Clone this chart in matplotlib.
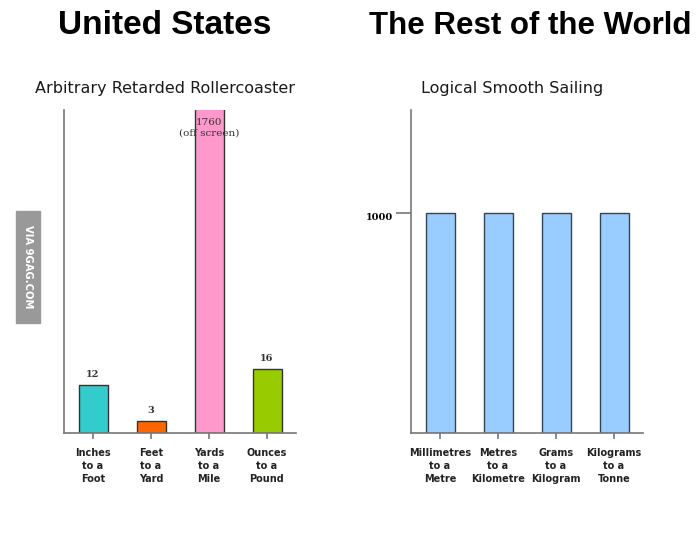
import matplotlib
matplotlib.use("Agg")
import matplotlib.pyplot as plt
from matplotlib.patches import Rectangle

# left panel: US conversion factors
us_labels = ["Inches\nto a\nFoot", "Feet\nto a\nYard", "Yards\nto a\nMile", "Ounces\nto a\nPound"]
us_values = [12, 3, 1760, 16]
us_colors = ["#33CCCC", "#FF6600", "#FF99CC", "#99CC00"]

# right panel: metric conversion factors
world_labels = ["Millimetres\nto a\nMetre", "Metres\nto a\nKilometre", "Grams\nto a\nKilogram", "Kilograms\nto a\nTonne"]
world_values = [1000, 1000, 1000, 1000]
world_color = "#99CCFF"

AXIS_GREY = "#777777"


def style_axes(ax):
    for side in ("top", "right"):
        ax.spines[side].set_visible(False)
    for side in ("left", "bottom"):
        ax.spines[side].set_color(AXIS_GREY)
        ax.spines[side].set_linewidth(1.2)
    ax.tick_params(axis="x", length=4, width=1.2, color=AXIS_GREY, pad=7,
                   labelsize=7, labelcolor="#222222")
    ax.set_xlim(-0.5, 3.5)
    for lab in ax.get_xticklabels():
        lab.set_fontweight("bold")
        lab.set_linespacing(1.35)


fig = plt.figure(figsize=(7, 5.33), dpi=100)

# --- United States ---
ax1 = fig.add_axes([64 / 700, 100 / 533, 232 / 700, 323 / 533])
x = range(len(us_values))
ax1.bar(x, us_values, width=0.5, color=us_colors, edgecolor="#333333", linewidth=1)
ax1.set_ylim(0, 80.75)
ax1.set_yticks([])
ax1.set_xticks(list(x))
ax1.set_xticklabels(us_labels, multialignment="center")
style_axes(ax1)
for xi, v in zip(x, us_values):
    if v > 80:
        # bar runs off the top of the chart
        ax1.annotate(f"{v}\n(off screen)", (xi, 1.0), xycoords=ax1.get_xaxis_transform(),
                     xytext=(0, -6), textcoords="offset points",
                     ha="center", va="top", fontsize=7.5, family="DejaVu Serif",
                     color="#333333", linespacing=1.15)
    else:
        ax1.annotate(str(v), (xi, v), xytext=(0, 4), textcoords="offset points",
                     ha="center", va="bottom", fontsize=7, family="DejaVu Serif",
                     fontweight="bold", color="#333333")

# --- Rest of the World ---
ax2 = fig.add_axes([411 / 700, 100 / 533, 232 / 700, 323 / 533])
x2 = range(len(world_values))
ax2.bar(x2, world_values, width=0.5, color=world_color, edgecolor="#334455", linewidth=1)
ax2.set_ylim(0, 1468)
ax2.set_yticks([1000])
ax2.set_yticklabels(["1000"])
ax2.tick_params(axis="y", length=11, width=1.2, color=AXIS_GREY, pad=2, labelsize=7)
for lab in ax2.get_yticklabels():
    lab.set_family("DejaVu Serif")
    lab.set_fontweight("bold")
    lab.set_va("top")
ax2.set_xticks(list(x2))
ax2.set_xticklabels(world_labels, multialignment="center")
style_axes(ax2)

# titles
fig.text(165 / 700, 1 - 26 / 533, "United States", ha="center", va="center",
         fontsize=24, fontweight="bold", family="Liberation Sans")
fig.text(530 / 700, 1 - 26 / 533, "The Rest of the World", ha="center", va="center",
         fontsize=22.5, fontweight="bold", family="Liberation Sans")
fig.text(165 / 700, 1 - 88 / 533, "Arbitrary Retarded Rollercoaster", ha="center",
         va="center", fontsize=11.5, color="#1a1a1a")
fig.text(512 / 700, 1 - 88 / 533, "Logical Smooth Sailing", ha="center",
         va="center", fontsize=11.5, color="#1a1a1a")

# watermark
fig.patches.append(Rectangle((16 / 700, 1 - 323 / 533), 24 / 700, 112 / 533,
                             transform=fig.transFigure, color="#999999", zorder=0))
fig.text(28 / 700, 1 - 267 / 533, "VIA 9GAG.COM", rotation=270, ha="center",
         va="center", fontsize=8, fontweight="bold", color="white",
         fontstretch="condensed")

fig.savefig("out.png", dpi=100)
